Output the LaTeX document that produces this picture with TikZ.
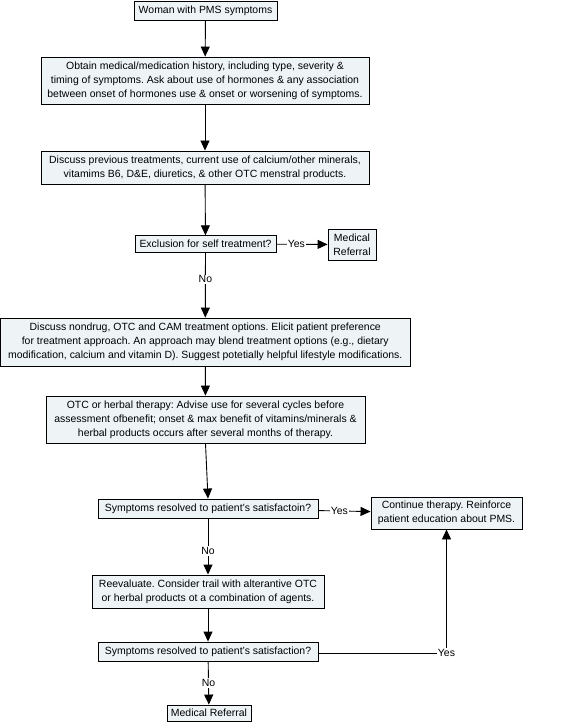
\documentclass[tikz,border=0pt]{standalone}
\usepackage{fontspec}
\setmainfont{Liberation Sans}
\usetikzlibrary{arrows.meta}
\definecolor{boxfill}{RGB}{238,244,246}
\begin{document}
\frenchspacing
\begin{tikzpicture}[x=1bp,y=-1bp,
  box/.style={draw=black, fill=boxfill, line width=0.9pt, inner sep=0pt, align=center,
     font=\fontsize{10.5}{14}\selectfont},
  conn/.style={line width=0.9pt, -{Triangle[length=10bp,width=9bp]}},
  plain/.style={line width=0.9pt},
  lbl/.style={fill=white, inner sep=1bp, font=\fontsize{10.5}{12}\selectfont}]
\useasboundingbox[fill=white] (0,0) rectangle (588,723);
\node[box, minimum width=143bp, minimum height=19.5bp] (b1) at (205.5,10.75) {Woman with PMS symptoms};
\node[box, minimum width=328bp, minimum height=47bp] (b2) at (205,80.5) {Obtain medical/medication history, including type, severity \&\\timing of symptoms. Ask about use of hormones \& any association\\between onset of hormones use \& onset or worsening of symptoms.};
\node[box, minimum width=328bp, minimum height=33bp] (b3) at (205,167.5) {Discuss previous treatments, current use of calcium/other minerals,\\vitamims B6, D\&E, diuretics, \& other OTC menstral products.};
\node[box, minimum width=141bp, minimum height=16.5bp] (b4) at (205.5,244) {Exclusion for self treatment?};
\node[box, minimum width=48bp, minimum height=31bp] (mr1) at (352,244.5) {Medical\\Referral};
\node[box, minimum width=409.5bp, minimum height=48bp] (b5) at (205.25,342) {Discuss nondrug, OTC and CAM treatment options. Elicit patient preference\\for treatment approach. An approach may blend treatment options (e.g., dietary\\modification, calcium and vitamin D). Suggest potetially helpful lifestyle modifications.};
\node[box, minimum width=319bp, minimum height=47bp] (b6) at (205.5,419.5) {OTC or herbal therapy: Advise use for several cycles before\\assessment ofbenefit; onset \& max benefit of vitamins/minerals \&\\herbal products occurs after several months of therapy.};
\node[box, minimum width=220bp, minimum height=19bp] (b7) at (208,508.5) {Symptoms resolved to patient's satisfactoin?};
\node[box, minimum width=151bp, minimum height=32bp] (cont) at (446.5,513) {Continue therapy. Reinforce\\patient education about PMS.};
\node[box, minimum width=232bp, minimum height=33bp] (b8) at (208,591.5) {Reevaluate. Consider trail with alterantive OTC\\or herbal products ot a combination of agents.};
\node[box, minimum width=220bp, minimum height=19bp] (b9) at (208,651.5) {Symptoms resolved to patient's satisfaction?};
\node[box, minimum width=84bp, minimum height=16bp] (mr2) at (209,713) {Medical Referral};
\coordinate (corner) at (446.5,653);

\draw[conn] (b1) -- (b2);
\draw[conn] (b2) -- (b3);
\draw[conn] (b3) -- (b4);
\draw[conn] (b4) -- node[lbl, pos=0.39] {Yes} (mr1);
\draw[conn] (b4) -- node[lbl, pos=0.41] {No} (b5);
\draw[conn] (b5) -- (b6);
\draw[conn] (b6.south) -- (b7.north);
\draw[conn] (b7) -- node[lbl, pos=0.4] {Yes} (cont);
\draw[conn] (b7) -- node[lbl, pos=0.58] {No} (b8);
\draw[conn] (b8) -- (b9);
\draw[conn] (b9) -- node[lbl, pos=0.5] {No} (mr2);
\draw[conn] (b9.east |- corner) -- (corner) -- (cont.south);
\node[lbl] (yes3) at (corner) {Yes};
\end{tikzpicture}
\end{document}
